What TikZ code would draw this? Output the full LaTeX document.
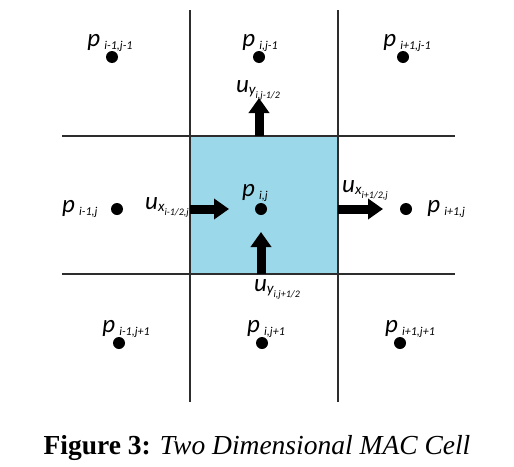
\documentclass[tikz,border=0pt]{standalone}
\usepackage{fontspec}
\setmainfont{Liberation Serif}
\setsansfont{Carlito}
\usetikzlibrary{arrows.meta,positioning}
\definecolor{Cell}{RGB}{155,216,233}
\definecolor{Grid}{RGB}{45,45,45}
\tikzset{
    gridline/.style={draw=Grid, line width=1.3pt},
    pdot/.style={circle, fill=black, inner sep=0pt, minimum size=12pt},
    plab/.style={font=\sffamily\itshape\fontsize{25}{25}\selectfont, inner sep=1pt},
    flow/.style={line width=9pt, -{Triangle[width=20pt, length=15pt]}},
}
\newcommand{\psub}[1]{p\,\raisebox{-3pt}{\fontsize{12}{12}\selectfont #1}}
\newcommand{\usub}[2]{u\raisebox{-2pt}{\fontsize{15}{15}\selectfont #1}\raisebox{-6pt}{\fontsize{10}{10}\selectfont #2}}

\begin{document}
\begin{tikzpicture}[x=1pt, y=-1pt]
    \useasboundingbox (0,0) rectangle (514,466);

    % -- cell and grid --
    \fill [Cell] (190,136) rectangle (338,274);
    \draw [gridline] (190,10) -- (190,402);
    \draw [gridline] (338,10) -- (338,402);
    \draw [gridline] (62,136) -- (455,136);
    \draw [gridline] (62,274) -- (455,274);

    % -- pressure points --
    \node [pdot] (tl) at (112,57) {};
    \node [pdot] (tc) at (259,57) {};
    \node [pdot] (tr) at (403,57) {};
    \node [pdot] (ml) at (117,209) {};
    \node [pdot] (mc) at (261,209) {};
    \node [pdot] (mr) at (406,209) {};
    \node [pdot] (bl) at (119,343) {};
    \node [pdot] (bc) at (262,343) {};
    \node [pdot] (br) at (400,343) {};

    \node [plab, above=-2pt of tl, xshift=-2pt] {\psub{i-1,j-1}};
    \node [plab, above=-2pt of tc, xshift=1pt] {\psub{i,j-1}};
    \node [plab, above=-2pt of tr, xshift=4pt] {\psub{i+1,j-1}};
    \node [plab, left=12pt of ml] {\psub{i-1,j}};
    \node [plab, above=0pt of mc, xshift=-6pt] {\psub{i,j}};
    \node [plab, right=14pt of mr] {\psub{i+1,j}};
    \node [plab, above=-2pt of bl, xshift=7pt] {\psub{i-1,j+1}};
    \node [plab, above=-2pt of bc, xshift=4pt] {\psub{i,j+1}};
    \node [plab, above=-2pt of br, xshift=10pt] {\psub{i+1,j+1}};

    % -- velocity arrows --
    \coordinate (ntail) at (259,136);
    \coordinate (nhead) at (259,98);
    \coordinate (wtail) at (190,209);
    \coordinate (whead) at (229,209);
    \coordinate (etail) at (338,209);
    \coordinate (ehead) at (383,209);
    \coordinate (stail) at (261,274);
    \coordinate (shead) at (261,232);
    \draw [flow] (ntail) -- (nhead);
    \draw [flow] (wtail) -- (whead);
    \draw [flow] (etail) -- (ehead);
    \draw [flow] (stail) -- (shead);

    \node [plab, above=-3pt of nhead, xshift=-1pt] {\usub{y}{i,j-1/2}};
    \node [plab, left=0pt of wtail, yshift=2pt] {\usub{x}{i-1/2,j}};
    \node [plab, anchor=south west, xshift=3pt, yshift=8pt] at (etail) {\usub{x}{i+1/2,j}};
    \node [plab, below=4pt of stail, xshift=16pt] {\usub{y}{i,j+1/2}};

    % -- caption --
    \node (cap) at (257,448) {\fontsize{27.5}{30}\selectfont\textbf{Figure 3:} \textit{Two Dimensional MAC Cell}};
\end{tikzpicture}
\end{document}
